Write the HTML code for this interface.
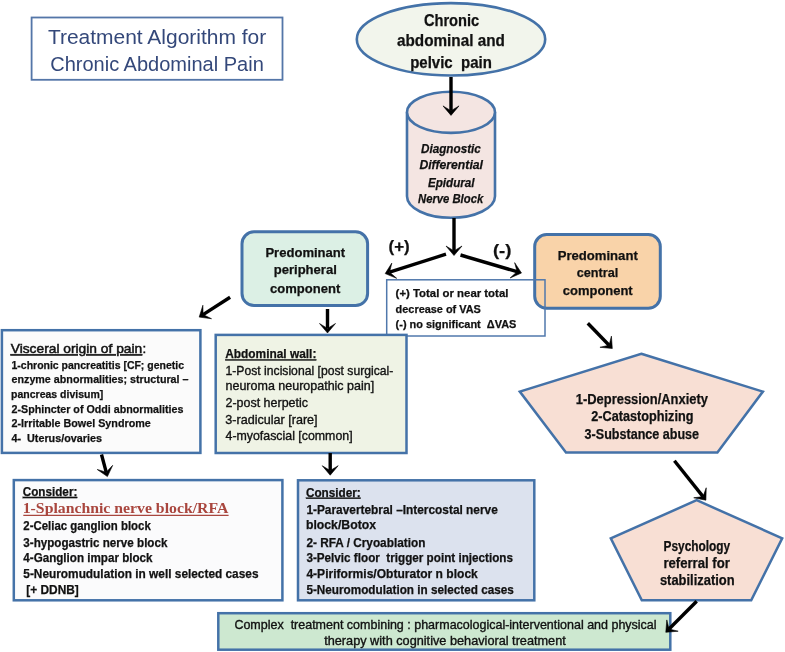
<!DOCTYPE html>
<html><head><meta charset="utf-8"><style>
html,body{margin:0;padding:0;background:#fff;}
body{width:785px;height:652px;overflow:hidden;}
svg{display:block;will-change:transform;}
</style></head><body>
<svg width="785" height="652" viewBox="0 0 785 652">
<rect width="785" height="652" fill="#fff"/>
<rect x="31.6" y="17.5" width="250.9" height="62.3" fill="#fff" stroke="#5476a8" stroke-width="1.8"/>
<text x="47.92" y="44" font-family="Liberation Sans" font-size="19.7" font-weight="normal" font-style="normal" fill="#34487a" text-anchor="start" textLength="218.34" lengthAdjust="spacingAndGlyphs" xml:space="preserve">Treatment Algorithm for</text>
<text x="50.2" y="70.9" font-family="Liberation Sans" font-size="19.7" font-weight="normal" font-style="normal" fill="#34487a" text-anchor="start" textLength="213.6" lengthAdjust="spacingAndGlyphs" xml:space="preserve">Chronic Abdominal Pain</text>
<ellipse cx="451" cy="39.3" rx="94.2" ry="36.2" fill="#f2f5ec" stroke="#4472a8" stroke-width="2.6"/>
<text x="423.9" y="26.0" font-family="Liberation Sans" font-size="16" font-weight="bold" font-style="normal" fill="#111" text-anchor="start" textLength="55.36" lengthAdjust="spacingAndGlyphs" stroke="#111" stroke-width="0.25" xml:space="preserve">Chronic</text>
<text x="397.0" y="46.4" font-family="Liberation Sans" font-size="16" font-weight="bold" font-style="normal" fill="#111" text-anchor="start" textLength="107.8" lengthAdjust="spacingAndGlyphs" stroke="#111" stroke-width="0.25" xml:space="preserve">abdominal and</text>
<text x="410.2" y="67.8" font-family="Liberation Sans" font-size="16" font-weight="bold" font-style="normal" fill="#111" text-anchor="start" textLength="81.6" lengthAdjust="spacingAndGlyphs" stroke="#111" stroke-width="0.25" xml:space="preserve">pelvic  pain</text>
<path d="M407 112.3 L407 196.3 A44 21.5 0 0 0 495 196.3 L495 112.3" fill="#f4e5e2" stroke="#4472a8" stroke-width="2.6"/>
<ellipse cx="451" cy="112.3" rx="44" ry="20.6" fill="#f4e5e2" stroke="#4472a8" stroke-width="2.6"/>
<text x="421" y="153.3" font-family="Liberation Sans" font-size="12.4" font-weight="bold" font-style="italic" fill="#111" text-anchor="start" textLength="59.8" lengthAdjust="spacingAndGlyphs" stroke="#111" stroke-width="0.25" xml:space="preserve">Diagnostic</text>
<text x="419.4" y="169.1" font-family="Liberation Sans" font-size="12.4" font-weight="bold" font-style="italic" fill="#111" text-anchor="start" textLength="63.6" lengthAdjust="spacingAndGlyphs" stroke="#111" stroke-width="0.25" xml:space="preserve">Differential</text>
<text x="427.9" y="186.6" font-family="Liberation Sans" font-size="12.4" font-weight="bold" font-style="italic" fill="#111" text-anchor="start" textLength="46.7" lengthAdjust="spacingAndGlyphs" stroke="#111" stroke-width="0.25" xml:space="preserve">Epidural</text>
<text x="418.0" y="202.9" font-family="Liberation Sans" font-size="12.4" font-weight="bold" font-style="italic" fill="#111" text-anchor="start" textLength="65.2" lengthAdjust="spacingAndGlyphs" stroke="#111" stroke-width="0.25" xml:space="preserve">Nerve Block</text>
<text x="388.56" y="252" font-family="Liberation Sans" font-size="16.5" font-weight="bold" font-style="normal" fill="#111" text-anchor="start" textLength="21.16" lengthAdjust="spacingAndGlyphs" stroke="#111" stroke-width="0.25" xml:space="preserve">(+)</text>
<text x="492.92" y="255.5" font-family="Liberation Sans" font-size="16.5" font-weight="bold" font-style="normal" fill="#111" text-anchor="start" textLength="18.52" lengthAdjust="spacingAndGlyphs" stroke="#111" stroke-width="0.25" xml:space="preserve">(-)</text>
<rect x="242" y="231.8" width="125.6" height="73.7" rx="12" fill="#dcf0e5" stroke="#4472a8" stroke-width="3"/>
<text x="265.4" y="256.5" font-family="Liberation Sans" font-size="13.2" font-weight="bold" font-style="normal" fill="#111" text-anchor="start" textLength="79.8" lengthAdjust="spacingAndGlyphs" stroke="#111" stroke-width="0.25" xml:space="preserve">Predominant</text>
<text x="273.74" y="274.2" font-family="Liberation Sans" font-size="13.2" font-weight="bold" font-style="normal" fill="#111" text-anchor="start" textLength="63.06" lengthAdjust="spacingAndGlyphs" stroke="#111" stroke-width="0.25" xml:space="preserve">peripheral</text>
<text x="270.1" y="292.8" font-family="Liberation Sans" font-size="13.2" font-weight="bold" font-style="normal" fill="#111" text-anchor="start" textLength="70.2" lengthAdjust="spacingAndGlyphs" stroke="#111" stroke-width="0.25" xml:space="preserve">component</text>
<rect x="534.7" y="234.6" width="125.6" height="73.7" rx="12" fill="#f9d3a9" stroke="#4472a8" stroke-width="3"/>
<text x="557.7" y="259.8" font-family="Liberation Sans" font-size="13.2" font-weight="bold" font-style="normal" fill="#111" text-anchor="start" textLength="80.1" lengthAdjust="spacingAndGlyphs" stroke="#111" stroke-width="0.25" xml:space="preserve">Predominant</text>
<text x="576.7" y="277.0" font-family="Liberation Sans" font-size="13.2" font-weight="bold" font-style="normal" fill="#111" text-anchor="start" textLength="41.5" lengthAdjust="spacingAndGlyphs" stroke="#111" stroke-width="0.25" xml:space="preserve">central</text>
<text x="562.8" y="295.1" font-family="Liberation Sans" font-size="13.2" font-weight="bold" font-style="normal" fill="#111" text-anchor="start" textLength="69.9" lengthAdjust="spacingAndGlyphs" stroke="#111" stroke-width="0.25" xml:space="preserve">component</text>
<rect x="386.7" y="279.8" width="158.3" height="56.2" fill="none" stroke="#5078ac" stroke-width="1.5"/>
<text x="395.6" y="297" font-family="Liberation Sans" font-size="11.1" font-weight="bold" font-style="normal" fill="#111" text-anchor="start" textLength="112.8" lengthAdjust="spacingAndGlyphs" stroke="#111" stroke-width="0.25" xml:space="preserve">(+) Total or near total</text>
<text x="395.6" y="312.9" font-family="Liberation Sans" font-size="11.1" font-weight="bold" font-style="normal" fill="#111" text-anchor="start" textLength="85.3" lengthAdjust="spacingAndGlyphs" stroke="#111" stroke-width="0.25" xml:space="preserve">decrease of VAS</text>
<text x="395.6" y="327.7" font-family="Liberation Sans" font-size="11.1" font-weight="bold" font-style="normal" fill="#111" text-anchor="start" textLength="120.8" lengthAdjust="spacingAndGlyphs" stroke="#111" stroke-width="0.25" xml:space="preserve">(-) no significant  ΔVAS</text>
<rect x="1.9" y="330.2" width="198.5" height="122.7" fill="#fbfbfb" stroke="#4472a8" stroke-width="2.5"/>
<text x="10.7" y="353.2" font-family="Liberation Sans" font-size="13.3" font-weight="normal" font-style="normal" fill="#111" text-anchor="start" textLength="131.5" lengthAdjust="spacingAndGlyphs" text-decoration="underline" stroke="#111" stroke-width="0.5" xml:space="preserve">Visceral origin of pain</text>
<text x="142.6" y="353.2" font-family="Liberation Sans" font-size="13.3" font-weight="normal" font-style="normal" fill="#111" text-anchor="start" stroke="#111" stroke-width="0.5" xml:space="preserve">:</text>
<text x="11.5" y="368.6" font-family="Liberation Sans" font-size="11.4" font-weight="bold" font-style="normal" fill="#111" text-anchor="start" textLength="172.5" lengthAdjust="spacingAndGlyphs" stroke="#111" stroke-width="0.25" xml:space="preserve">1-chronic pancreatitis [CF; genetic</text>
<text x="11.5" y="382.6" font-family="Liberation Sans" font-size="11.4" font-weight="bold" font-style="normal" fill="#111" text-anchor="start" textLength="177.0" lengthAdjust="spacingAndGlyphs" stroke="#111" stroke-width="0.25" xml:space="preserve">enzyme abnormalities; structural –</text>
<text x="11.1" y="397.7" font-family="Liberation Sans" font-size="11.4" font-weight="bold" font-style="normal" fill="#111" text-anchor="start" textLength="92.16" lengthAdjust="spacingAndGlyphs" stroke="#111" stroke-width="0.25" xml:space="preserve">pancreas divisum]</text>
<text x="11.5" y="412.5" font-family="Liberation Sans" font-size="11.4" font-weight="bold" font-style="normal" fill="#111" text-anchor="start" textLength="171.9" lengthAdjust="spacingAndGlyphs" stroke="#111" stroke-width="0.25" xml:space="preserve">2-Sphincter of Oddi abnormalities</text>
<text x="11.5" y="427.3" font-family="Liberation Sans" font-size="11.4" font-weight="bold" font-style="normal" fill="#111" text-anchor="start" textLength="139.3" lengthAdjust="spacingAndGlyphs" stroke="#111" stroke-width="0.25" xml:space="preserve">2-Irritable Bowel Syndrome</text>
<text x="11.5" y="441.9" font-family="Liberation Sans" font-size="11.4" font-weight="bold" font-style="normal" fill="#111" text-anchor="start" textLength="90.4" lengthAdjust="spacingAndGlyphs" stroke="#111" stroke-width="0.25" xml:space="preserve">4-  Uterus/ovaries</text>
<rect x="215.7" y="334.9" width="190.8" height="118.1" fill="#eff3e5" stroke="#4472a8" stroke-width="2.5"/>
<text x="225.2" y="358.3" font-family="Liberation Sans" font-size="12.5" font-weight="bold" font-style="normal" fill="#111" text-anchor="start" textLength="91.2" lengthAdjust="spacingAndGlyphs" text-decoration="underline" stroke="#111" stroke-width="0.25" xml:space="preserve">Abdominal wall:</text>
<text x="225.5" y="374.9" font-family="Liberation Sans" font-size="12.7" font-weight="normal" font-style="normal" fill="#111" text-anchor="start" textLength="167.8" lengthAdjust="spacingAndGlyphs" stroke="#111" stroke-width="0.35" xml:space="preserve">1-Post incisional [post surgical-</text>
<text x="225.5" y="390.2" font-family="Liberation Sans" font-size="12.7" font-weight="normal" font-style="normal" fill="#111" text-anchor="start" textLength="148.7" lengthAdjust="spacingAndGlyphs" stroke="#111" stroke-width="0.35" xml:space="preserve">neuroma neuropathic pain]</text>
<text x="225.5" y="406.6" font-family="Liberation Sans" font-size="12.7" font-weight="normal" font-style="normal" fill="#111" text-anchor="start" textLength="82.5" lengthAdjust="spacingAndGlyphs" stroke="#111" stroke-width="0.35" xml:space="preserve">2-post herpetic</text>
<text x="225.26" y="423.7" font-family="Liberation Sans" font-size="12.7" font-weight="normal" font-style="normal" fill="#111" text-anchor="start" textLength="92.36" lengthAdjust="spacingAndGlyphs" stroke="#111" stroke-width="0.35" xml:space="preserve">3-radicular [rare]</text>
<text x="225.5" y="439.8" font-family="Liberation Sans" font-size="12.7" font-weight="normal" font-style="normal" fill="#111" text-anchor="start" textLength="127.1" lengthAdjust="spacingAndGlyphs" stroke="#111" stroke-width="0.35" xml:space="preserve">4-myofascial [common]</text>
<rect x="13.8" y="480.1" width="268.6" height="120.2" fill="#fbfbfc" stroke="#4472a8" stroke-width="2.5"/>
<text x="22.74" y="495.9" font-family="Liberation Sans" font-size="12.2" font-weight="bold" font-style="normal" fill="#111" text-anchor="start" textLength="54.6" lengthAdjust="spacingAndGlyphs" text-decoration="underline" stroke="#111" stroke-width="0.25" xml:space="preserve">Consider:</text>
<text x="22.74" y="513.0" font-family="Liberation Serif" font-size="14" font-weight="bold" font-style="normal" fill="#a9463e" text-anchor="start" textLength="205.54" lengthAdjust="spacingAndGlyphs" xml:space="preserve">1-Splanchnic nerve block/RFA</text>
<line x1="23.3" y1="515.4" x2="228.6" y2="515.4" stroke="#a9463e" stroke-width="1.4"/>
<text x="23.3" y="530.3" font-family="Liberation Sans" font-size="12.2" font-weight="bold" font-style="normal" fill="#111" text-anchor="start" textLength="127.5" lengthAdjust="spacingAndGlyphs" stroke="#111" stroke-width="0.25" xml:space="preserve">2-Celiac ganglion block</text>
<text x="23.3" y="546.5" font-family="Liberation Sans" font-size="12.2" font-weight="bold" font-style="normal" fill="#111" text-anchor="start" textLength="144.1" lengthAdjust="spacingAndGlyphs" stroke="#111" stroke-width="0.25" xml:space="preserve">3-hypogastric nerve block</text>
<text x="23.3" y="562.0" font-family="Liberation Sans" font-size="12.2" font-weight="bold" font-style="normal" fill="#111" text-anchor="start" textLength="129.2" lengthAdjust="spacingAndGlyphs" stroke="#111" stroke-width="0.25" xml:space="preserve">4-Ganglion impar block</text>
<text x="23.3" y="578.1" font-family="Liberation Sans" font-size="12.2" font-weight="bold" font-style="normal" fill="#111" text-anchor="start" textLength="235.2" lengthAdjust="spacingAndGlyphs" stroke="#111" stroke-width="0.25" xml:space="preserve">5-Neuromudulation in well selected cases</text>
<text x="26.28" y="593.8" font-family="Liberation Sans" font-size="12.2" font-weight="bold" font-style="normal" fill="#111" text-anchor="start" textLength="52.52" lengthAdjust="spacingAndGlyphs" stroke="#111" stroke-width="0.25" xml:space="preserve">[+ DDNB]</text>
<rect x="298" y="480.3" width="236.3" height="120" fill="#dce2ee" stroke="#4472a8" stroke-width="2.5"/>
<text x="305.92" y="496.6" font-family="Liberation Sans" font-size="12.2" font-weight="bold" font-style="normal" fill="#111" text-anchor="start" textLength="54.88" lengthAdjust="spacingAndGlyphs" text-decoration="underline" stroke="#111" stroke-width="0.25" xml:space="preserve">Consider:</text>
<text x="306.4" y="513.6" font-family="Liberation Sans" font-size="12.2" font-weight="bold" font-style="normal" fill="#111" text-anchor="start" textLength="191.4" lengthAdjust="spacingAndGlyphs" stroke="#111" stroke-width="0.25" xml:space="preserve">1-Paravertebral –Intercostal nerve</text>
<text x="305.92" y="529.4" font-family="Liberation Sans" font-size="12.2" font-weight="bold" font-style="normal" fill="#111" text-anchor="start" textLength="70.16" lengthAdjust="spacingAndGlyphs" stroke="#111" stroke-width="0.25" xml:space="preserve">block/Botox</text>
<text x="306.4" y="546.5" font-family="Liberation Sans" font-size="12.2" font-weight="bold" font-style="normal" fill="#111" text-anchor="start" textLength="119.0" lengthAdjust="spacingAndGlyphs" stroke="#111" stroke-width="0.25" xml:space="preserve">2- RFA / Cryoablation</text>
<text x="306.4" y="562.2" font-family="Liberation Sans" font-size="12.2" font-weight="bold" font-style="normal" fill="#111" text-anchor="start" textLength="206.6" lengthAdjust="spacingAndGlyphs" stroke="#111" stroke-width="0.25" xml:space="preserve">3-Pelvic floor  trigger point injections</text>
<text x="306.4" y="577.8" font-family="Liberation Sans" font-size="12.2" font-weight="bold" font-style="normal" fill="#111" text-anchor="start" textLength="171.4" lengthAdjust="spacingAndGlyphs" stroke="#111" stroke-width="0.25" xml:space="preserve">4-Piriformis/Obturator n block</text>
<text x="306.4" y="593.9" font-family="Liberation Sans" font-size="12.2" font-weight="bold" font-style="normal" fill="#111" text-anchor="start" textLength="207.5" lengthAdjust="spacingAndGlyphs" stroke="#111" stroke-width="0.25" xml:space="preserve">5-Neuromodulation in selected cases</text>
<polygon points="641.3,353.8 762.9,391.6 717.4,452.6 566,452.6 519.8,391.6" fill="#f8dfd4" stroke="#4472a8" stroke-width="2.5"/>
<text x="575.8" y="403.6" font-family="Liberation Sans" font-size="13.8" font-weight="bold" font-style="normal" fill="#111" text-anchor="start" textLength="132.1" lengthAdjust="spacingAndGlyphs" stroke="#111" stroke-width="0.25" xml:space="preserve">1-Depression/Anxiety</text>
<text x="591.28" y="421.1" font-family="Liberation Sans" font-size="13.8" font-weight="bold" font-style="normal" fill="#111" text-anchor="start" textLength="102.16" lengthAdjust="spacingAndGlyphs" stroke="#111" stroke-width="0.25" xml:space="preserve">2-Catastophizing</text>
<text x="584.6" y="438.7" font-family="Liberation Sans" font-size="13.8" font-weight="bold" font-style="normal" fill="#111" text-anchor="start" textLength="114.5" lengthAdjust="spacingAndGlyphs" stroke="#111" stroke-width="0.25" xml:space="preserve">3-Substance abuse</text>
<polygon points="696.7,500.2 782.2,538.3 751.2,600.3 641.8,600.3 610.8,538.3" fill="#f8dfd4" stroke="#4472a8" stroke-width="2.5"/>
<text x="663.5" y="550.7" font-family="Liberation Sans" font-size="13.8" font-weight="bold" font-style="normal" fill="#111" text-anchor="start" textLength="66.7" lengthAdjust="spacingAndGlyphs" stroke="#111" stroke-width="0.25" xml:space="preserve">Psychology</text>
<text x="663.38" y="567.8" font-family="Liberation Sans" font-size="13.8" font-weight="bold" font-style="normal" fill="#111" text-anchor="start" textLength="66.52" lengthAdjust="spacingAndGlyphs" stroke="#111" stroke-width="0.25" xml:space="preserve">referral for</text>
<text x="659.92" y="585.4" font-family="Liberation Sans" font-size="13.8" font-weight="bold" font-style="normal" fill="#111" text-anchor="start" textLength="74.7" lengthAdjust="spacingAndGlyphs" stroke="#111" stroke-width="0.25" xml:space="preserve">stabilization</text>
<rect x="218.3" y="613.2" width="452" height="36.5" fill="#cde8d0" stroke="#4472a8" stroke-width="2.5"/>
<text x="234.4" y="629" font-family="Liberation Sans" font-size="12.2" font-weight="normal" font-style="normal" fill="#111" text-anchor="start" textLength="422.2" lengthAdjust="spacingAndGlyphs" stroke="#111" stroke-width="0.35" xml:space="preserve">Complex  treatment combining : pharmacological-interventional and physical</text>
<text x="324.2" y="645.0" font-family="Liberation Sans" font-size="12.2" font-weight="normal" font-style="normal" fill="#111" text-anchor="start" textLength="241.6" lengthAdjust="spacingAndGlyphs" stroke="#111" stroke-width="0.35" xml:space="preserve">therapy with cognitive behavioral treatment</text>
<line x1="451" y1="77" x2="451.00" y2="110.80" stroke="#000" stroke-width="3.4"/>
<polygon points="451,115.4 443.00,105.90 451.00,110.80 459.00,105.90" fill="#000" stroke="#000" stroke-width="0.6" stroke-linejoin="round"/>
<line x1="454" y1="218" x2="454.00" y2="250.90" stroke="#000" stroke-width="3.4"/>
<polygon points="454,255.5 446.00,246.00 454.00,250.90 462.00,246.00" fill="#000" stroke="#000" stroke-width="0.6" stroke-linejoin="round"/>
<line x1="446" y1="254.2" x2="389.58" y2="272.20" stroke="#000" stroke-width="3.4"/>
<polygon points="385.2,273.6 391.82,263.09 389.58,272.20 396.68,278.33" fill="#000" stroke="#000" stroke-width="0.6" stroke-linejoin="round"/>
<line x1="460.5" y1="255" x2="517.09" y2="271.70" stroke="#000" stroke-width="3.4"/>
<polygon points="521.5,273 510.12,277.98 517.09,271.70 514.65,262.64" fill="#000" stroke="#000" stroke-width="0.6" stroke-linejoin="round"/>
<line x1="230.1" y1="297.3" x2="203.07" y2="314.62" stroke="#000" stroke-width="3.4"/>
<polygon points="199.2,317.1 202.88,305.24 203.07,314.62 211.51,318.71" fill="#000" stroke="#000" stroke-width="0.6" stroke-linejoin="round"/>
<line x1="327.5" y1="309" x2="327.50" y2="328.40" stroke="#000" stroke-width="3.4"/>
<polygon points="327.5,333 319.50,323.50 327.50,328.40 335.50,323.50" fill="#000" stroke="#000" stroke-width="0.6" stroke-linejoin="round"/>
<line x1="101.5" y1="454.5" x2="106.21" y2="472.16" stroke="#000" stroke-width="3.4"/>
<polygon points="107.4,476.6 97.22,469.48 106.21,472.16 112.68,465.36" fill="#000" stroke="#000" stroke-width="0.6" stroke-linejoin="round"/>
<line x1="330.2" y1="453" x2="330.20" y2="470.60" stroke="#000" stroke-width="3.4"/>
<polygon points="330.2,475.2 322.20,465.70 330.20,470.60 338.20,465.70" fill="#000" stroke="#000" stroke-width="0.6" stroke-linejoin="round"/>
<line x1="587.8" y1="323.3" x2="609.09" y2="345.20" stroke="#000" stroke-width="3.4"/>
<polygon points="612.3,348.5 599.94,347.27 609.09,345.20 611.41,336.11" fill="#000" stroke="#000" stroke-width="0.6" stroke-linejoin="round"/>
<line x1="674.4" y1="460.8" x2="703.03" y2="496.61" stroke="#000" stroke-width="3.4"/>
<polygon points="705.9,500.2 693.72,497.78 703.03,496.61 706.22,487.78" fill="#000" stroke="#000" stroke-width="0.6" stroke-linejoin="round"/>
<line x1="696.7" y1="601.2" x2="669.04" y2="629.04" stroke="#000" stroke-width="3.4"/>
<polygon points="665.8,632.3 666.82,619.92 669.04,629.04 678.17,631.20" fill="#000" stroke="#000" stroke-width="0.6" stroke-linejoin="round"/>
</svg>
</body></html>
